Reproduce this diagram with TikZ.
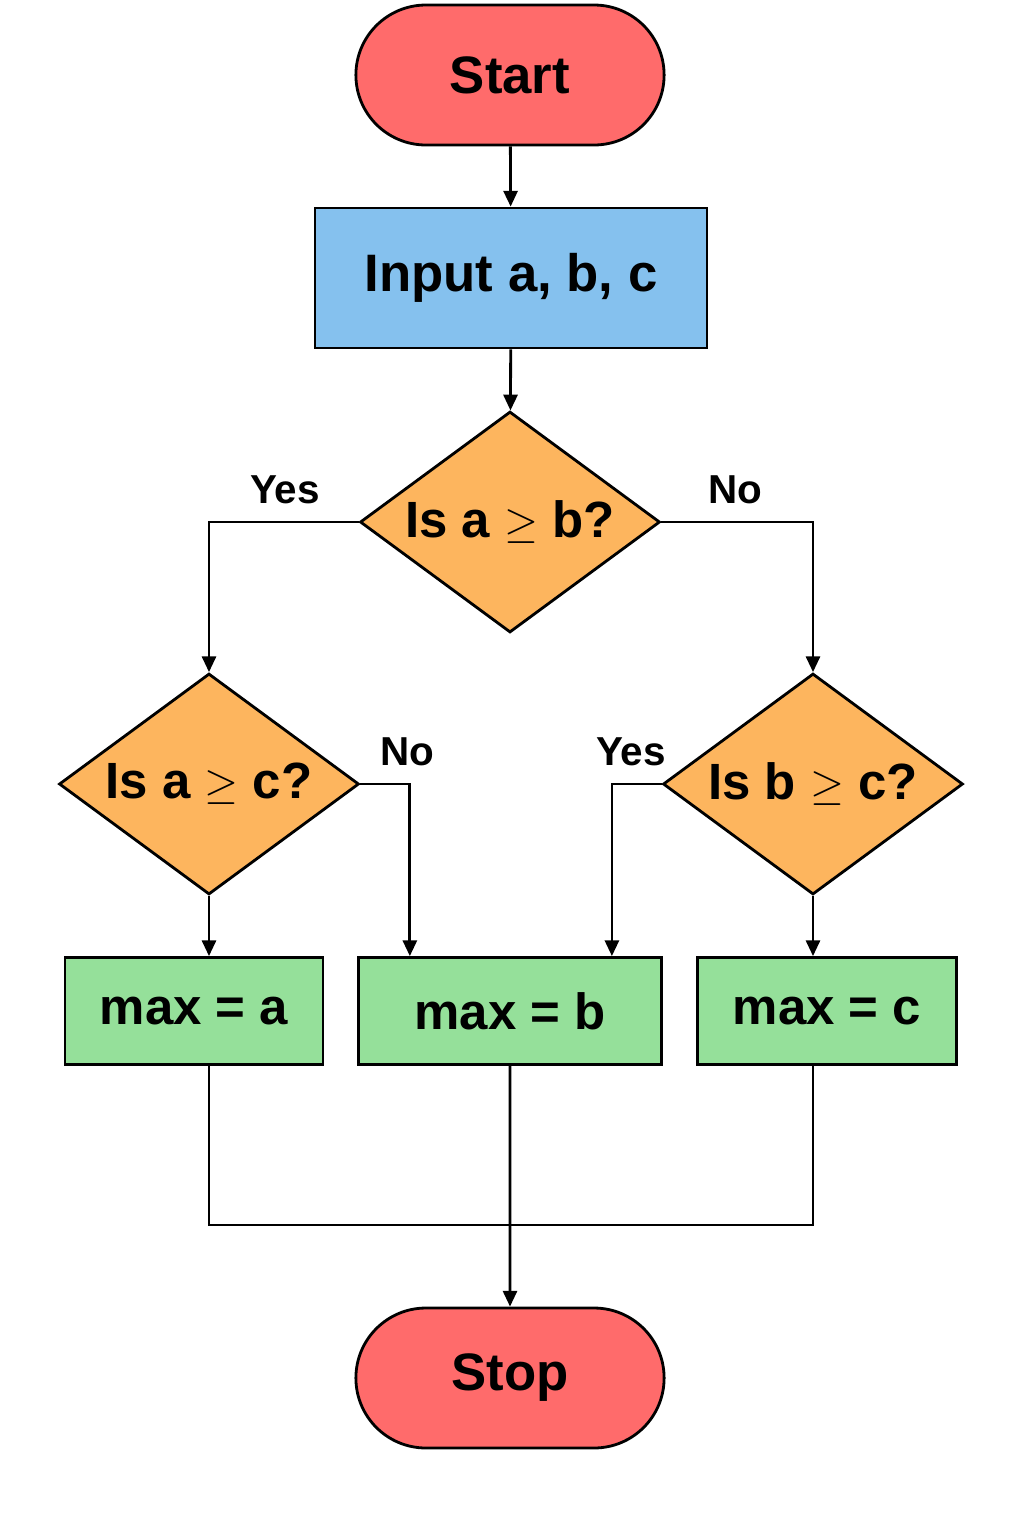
\documentclass[tikz,border=0pt]{standalone}
\usepackage{fontspec}
\setmainfont{Liberation Sans}
\usetikzlibrary{arrows, arrows.meta}
\usetikzlibrary{shapes.geometric, shapes.misc}
\definecolor{termred}{HTML}{FF6B6B}
\definecolor{ioblue}{HTML}{85C1EE}
\definecolor{decorange}{HTML}{FDB55E}
\definecolor{procgreen}{HTML}{95E09A}
\begin{document}
\begin{tikzpicture}[x=0.02cm, y=-0.02cm, line width=1.6pt,
    term/.style={rounded rectangle, draw, fill=termred, minimum width=6.4cm, minimum height=2.8cm, font=\fontsize{30}{34}\selectfont\bfseries},
    io/.style={rectangle, draw, fill=ioblue, minimum width=7.84cm, minimum height=2.8cm, font=\fontsize{30}{34}\selectfont\bfseries},
    dec/.style={diamond, draw, fill=decorange, aspect=1.37, inner sep=0pt, minimum width=6.0cm, minimum height=4.42cm, font=\fontsize{29}{33}\selectfont\bfseries},
    proc/.style={rectangle, draw, fill=procgreen, minimum height=2.14cm, font=\fontsize{29}{33}\selectfont\bfseries},
    lbl/.style={font=\fontsize{23}{26}\selectfont\bfseries},
    arr/.style={-{Triangle[length=9pt, width=8pt]}}]
    \useasboundingbox (0,0) rectangle (1024,1536);

    \node[term] (start) at (510,75) {Start};
    \node[io] (input) at (511,278) {Input a, b, c};
    \node[dec] (ab) at (510,522) {Is a $\geq$ b?};
    \node[dec] (ac) at (209,784) {Is a $\geq$ c?};
    \node[dec] (bc) at (813,784) {Is b $\geq$ c?};
    \node[proc, minimum width=5.16cm] (maxa) at (194,1011) {max = a};
    \node[proc, minimum width=6.06cm] (maxb) at (510,1011) {max = b};
    \node[proc, minimum width=5.18cm] (maxc) at (827,1011) {max = c};
    \node[term] (stop) at (510,1378) {Stop};

    \coordinate (join) at (510,1225);

    \draw[arr] (start) -- (input);
    \draw[arr] (input) -- (ab);

    \draw[arr] (ab.west) -| (ac.north);
    \draw[arr] (ab.east) -| (bc.north);
    \node[lbl] (yes1) at (285,490) {Yes};
    \node[lbl] (no1) at (735,490) {No};

    \draw[arr] (ac.south) -- (ac.south |- maxa.north);
    \draw[arr] (ac.east) -| ([xshift=-57]maxb.north);
    \node[lbl] (no2) at (407,752) {No};

    \draw[arr] (bc.west) -| ([xshift=58]maxb.north);
    \draw[arr] (bc.south) -- (bc.south |- maxc.north);
    \node[lbl] (yes2) at (631,752) {Yes};

    \draw (maxa.south -| ac.south) |- (join) -| (maxc.south -| bc.south);
    \draw[arr] (maxb) -- (stop);
\end{tikzpicture}
\end{document}
